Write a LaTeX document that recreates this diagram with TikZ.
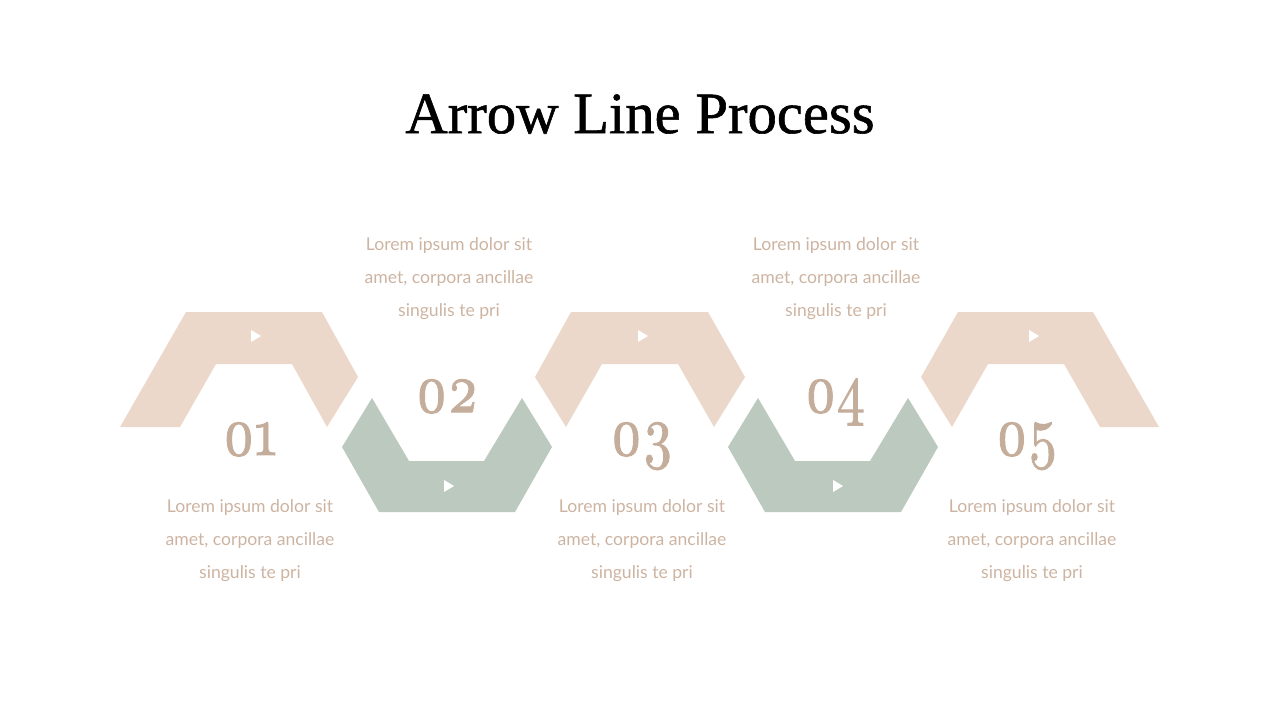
\documentclass[tikz,border=0pt]{standalone}
\usepackage{fontspec}
\setmainfont{Liberation Serif}
\newfontfamily\titlefont[FakeBold=1]{Liberation Serif}
\newfontfamily\bodyfont{Lato}
\newfontfamily\numfont[Numbers=OldStyle,FakeBold=1.5]{lmroman10-regular.otf}
\definecolor{sand}{HTML}{EBD8CA}
\definecolor{sage}{HTML}{BCC9BF}
\definecolor{textsand}{HTML}{CDB4A2}
\definecolor{numsand}{HTML}{C4AD9B}
\tikzstyle{upper arrow}=[fill=sand]
\tikzstyle{lower arrow}=[fill=sage]
\tikzstyle{play}=[fill=white]
\tikzstyle{number}=[anchor=base,inner sep=0pt,text=numsand,font=\numfont\fontsize{52}{52}\selectfont,xscale=0.8,transform shape]
\tikzstyle{blurb}=[align=center,inner sep=0pt,text=textsand,font=\bodyfont\fontsize{13.2}{24.75}\selectfont]

\begin{document}
\begin{tikzpicture}[x=0.75pt,y=-0.75pt]
		\useasboundingbox (0,0) rectangle (1280,720);
		\node[font=\titlefont\fontsize{44}{44}\selectfont] (title) at (640,114) {Arrow Line Process};
		% the five arrow pieces
		\path[upper arrow] (120,427) -- (186,312) -- (322,312) -- (358,377) -- (327,427) -- (292,364) -- (216,364) -- (180,427) -- cycle;
		\path[lower arrow] (342,447) -- (372,398) -- (409,461) -- (484,461) -- (522,398) -- (552,447) -- (515,512) -- (379,512) -- cycle;
		\path[upper arrow] (535,377) -- (571,312) -- (708,312) -- (745,377) -- (714,427) -- (678,364) -- (602,364) -- (566,427) -- cycle;
		\path[lower arrow] (728,447) -- (758,398) -- (795,461) -- (870,461) -- (908,398) -- (938,447) -- (901,512) -- (765,512) -- cycle;
		\path[upper arrow] (921,377) -- (958,312) -- (1093,312) -- (1159,427) -- (1100,427) -- (1064,364) -- (988,364) -- (952,427) -- cycle;
		% small play marks on the pieces
		\foreach \px/\py in {256/336, 449/486, 643/336, 838/486, 1034/336}
		\path[play] (\px-5,\py-6) -- (\px+5,\py) -- (\px-5,\py+6) -- cycle;
		% step numbers
		\node[number] (n1) at (250,455) {01};
		\node[number] (n2) at (447,412) {02};
		\node[number] (n3) at (642,455) {03};
		\node[number] (n4) at (835,412) {04};
		\node[number] (n5) at (1027,455) {05};
		% texts
		\node[blurb] (t1) at (250,541) {Lorem ipsum dolor sit\\amet, corpora ancillae\\singulis te pri};
		\node[blurb] (t2) at (449,279) {Lorem ipsum dolor sit\\amet, corpora ancillae\\singulis te pri};
		\node[blurb] (t3) at (642,541) {Lorem ipsum dolor sit\\amet, corpora ancillae\\singulis te pri};
		\node[blurb] (t4) at (836,279) {Lorem ipsum dolor sit\\amet, corpora ancillae\\singulis te pri};
		\node[blurb] (t5) at (1032,541) {Lorem ipsum dolor sit\\amet, corpora ancillae\\singulis te pri};
\end{tikzpicture}
\end{document}
